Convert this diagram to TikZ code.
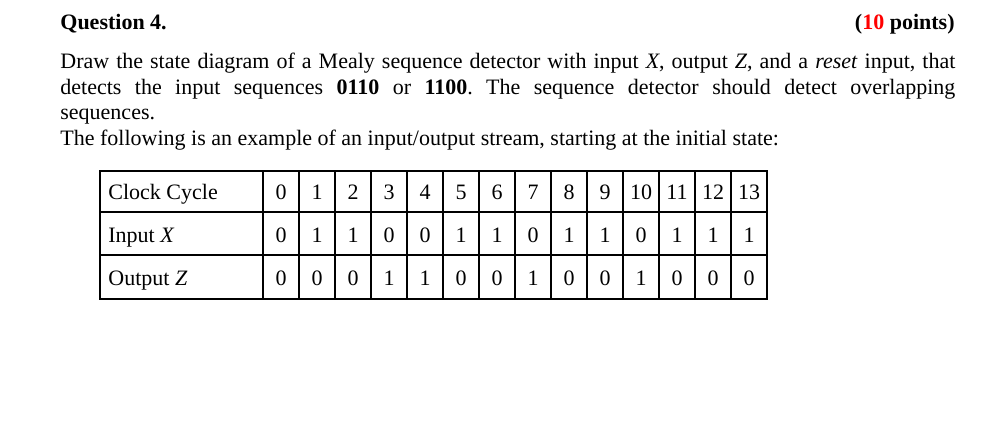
\documentclass[tikz,border=0pt]{standalone}
\usepackage{fontspec}
\setmainfont{Liberation Serif}
\begin{document}
\frenchspacing
\begin{tikzpicture}[x=0.5pt,y=-0.5pt,
  txt/.style={inner sep=0pt,anchor=base west,font=\fontsize{11pt}{13pt}\selectfont},
  cell/.style={inner sep=0pt,anchor=base,font=\fontsize{11pt}{13pt}\selectfont},
  grid/.style={line width=0.6pt}]
\useasboundingbox (0,0) rectangle (990,434);
\node[txt] (q) at (60,29) {\textbf{Question 4.}};
\node[txt,anchor=base east] (pts) at (955,29) {\textbf{(\textcolor{red}{10} points)}};
\node[txt] (l1) at (60,68) {\makebox[447.5pt][s]{Draw the state diagram of a Mealy sequence detector with input \textit{X}, output \textit{Z}, and a \textit{reset} input, that}};
\node[txt] (l2) at (60,94) {\makebox[447.5pt][s]{detects the input sequences \textbf{0110} or \textbf{1100}. The sequence detector should detect overlapping}};
\node[txt] (l3) at (60,119) {sequences.};
\node[txt] (l4) at (60,145) {The following is an example of an input/output stream, starting at the initial state:};
% table
\draw[grid] (100,171) rectangle (767,299);
\draw[grid] (100,212) -- (767,212);
\draw[grid] (100,255) -- (767,255);
\foreach \i in {0,...,13} { \draw[grid] (263+36*\i,171) -- (263+36*\i,299); }
\node[txt] (h1) at (108,199) {Clock Cycle};
\node[txt] (h2) at (108,242) {Input \textit{X}};
\node[txt] (h3) at (108,285) {Output \textit{Z}};
\foreach \v [count=\i from 0] in {0,1,2,3,4,5,6,7,8,9,10,11,12,13} { \node[cell] (c\i) at (281+36*\i,199) {\v}; }
\foreach \v [count=\i from 0] in {0,1,1,0,0,1,1,0,1,1,0,1,1,1} { \node[cell] (x\i) at (281+36*\i,242) {\v}; }
\foreach \v [count=\i from 0] in {0,0,0,1,1,0,0,1,0,0,1,0,0,0} { \node[cell] (z\i) at (281+36*\i,285) {\v}; }
\end{tikzpicture}
\end{document}
